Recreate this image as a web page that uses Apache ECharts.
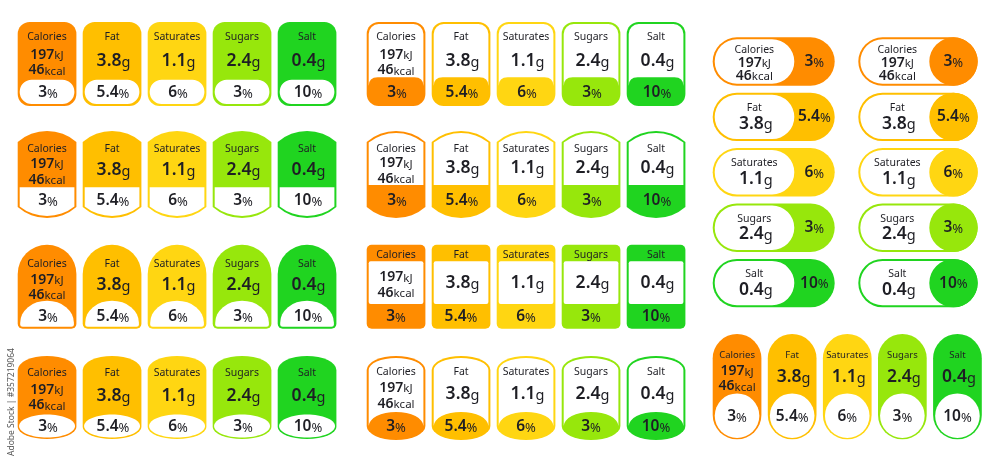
<!DOCTYPE html>
<html>
<head>
<meta charset="utf-8">
<style>
  html, body { margin: 0; padding: 0; background: #fff; }
  #main { width: 1000px; height: 462px; }
</style>
<script src="https://cdn.jsdelivr.net/npm/echarts@6/dist/echarts.min.js"></script>
</head>
<body>
<div id="main"></div>
<script>
const nutrients = ['Calories', 'Fat', 'Saturates', 'Sugars', 'Salt']
const energyValues = ['197', '46']
const energyUnits = ['kJ', 'kcal']
const amounts = ['', '3.8', '1.1', '2.4', '0.4']
const percents = [3, 5.4, 6, 3, 10]
const colors = ['#ff8c00', '#ffbf00', '#ffd612', '#97e70c', '#20d420']

const INK = '#1e1e24'
const FONT = '"Noto Sans"'

const rich = {
  big: { font: '600 17.5px ' + FONT, fill: INK, lineHeight: 20, verticalAlign: 'bottom' },
  unit: { font: '400 14.5px ' + FONT, fill: INK, lineHeight: 20, verticalAlign: 'bottom' },
  mid: { font: '600 14px ' + FONT, fill: INK, lineHeight: 20, verticalAlign: 'bottom' },
  small: { font: '400 11.5px ' + FONT, fill: INK, lineHeight: 20, verticalAlign: 'bottom' },
  pct: { font: '600 15.5px ' + FONT, fill: INK, lineHeight: 20, verticalAlign: 'bottom' },
  sign: { font: '400 13px ' + FONT, fill: INK, lineHeight: 20, verticalAlign: 'bottom' }
}

function path(d, fill) {
  return { type: 'path', shape: { pathData: d }, style: { fill: fill } }
}

function roundBox(x, y, w, h, r) {
  return `M${x + r} ${y}H${x + w - r}A${r} ${r} 0 0 1 ${x + w} ${y + r}V${y + h - r}A${r} ${r} 0 0 1 ${x + w - r} ${y + h}H${x + r}A${r} ${r} 0 0 1 ${x} ${y + h - r}V${y + r}A${r} ${r} 0 0 1 ${x + r} ${y}Z`
}

// card with curved top and bottom, st/sb are where the straight sides start and end
function curved(w, rxt, ryt, st, rxb, ryb, sb) {
  return `M0 ${st}A${rxt} ${ryt} 0 0 1 ${w} ${st}V${sb}A${rxb} ${ryb} 0 0 1 0 ${sb}Z`
}

const W = 58.7
const H = 84

const shapes = {
  aRound(c) {
    return [path(roundBox(0, 0, W, H, 12), c), path(roundBox(2, 57.7, W - 4, 24.3, 12), '#fff')]
  },
  aShield(c) {
    return [
      path(curved(W, 44.6, 44.6, 11, 44.6, 44.6, 76), c),
      path(`M2 56.3H${W - 2}V75.5A44 44 0 0 1 2 75.5Z`, '#fff')
    ]
  },
  aDome(c) {
    return [
      path(`M0 29.3A29.35 29.35 0 0 1 ${W} 29.3V${H - 5}A5 5 0 0 1 ${W - 5} ${H}H5A5 5 0 0 1 0 ${H - 5}Z`, c),
      path(`M2.5 ${H - 6}V${H - 4.5}A2.5 2.5 0 0 0 5 ${H - 2}H${W - 5}A2.5 2.5 0 0 0 ${W - 2.5} ${H - 4.5}V${H - 6}A26.85 22 0 0 0 2.5 ${H - 6}Z`, '#fff')
    ]
  },
  aBarrel(c) {
    return [
      path(curved(W, W / 2, 14, 14, W / 2, 12, 71), c),
      { type: 'ellipse', shape: { cx: W / 2, cy: 70, rx: 28, ry: 11.6 }, style: { fill: '#fff' } }
    ]
  },
  bRound(c) {
    return [
      path(roundBox(0, 0, W, H, 12), c),
      path(`M12 2H${W - 12}A10 10 0 0 1 ${W - 2} 12V64Q${W - 2} 55.3 ${W - 11} 55.3H11Q2 55.3 2 64V12A10 10 0 0 1 12 2Z`, '#fff')
    ]
  },
  bShield(c) {
    return [
      path(curved(W, 44.6, 44.6, 11, 44.6, 44.6, 76), c),
      path(`M2 54V11.5A44 44 0 0 1 ${W - 2} 11.5V54Z`, '#fff')
    ]
  },
  bHeader(c) {
    return [path(roundBox(0, 0, W, H, 5), c), path(roundBox(2, 16.6, W - 4, 42.7, 2), '#fff')]
  },
  bBarrel(c) {
    return [
      path(curved(W, W / 2, 14, 14, W / 2, 14, 70), c),
      path(`M2 70V14A27.35 12 0 0 1 ${W - 2} 14V70A27.35 14 0 0 0 2 70Z`, '#fff')
    ]
  },
  cPill(c) {
    return [path(roundBox(0, 0, 122, 48.4, 24.2), c), path(roundBox(2, 2, 79.6, 44.4, 22.2), '#fff')]
  },
  cBall(c) {
    return [
      path(roundBox(0, 0, 119.4, 48.4, 24.2), c),
      path(roundBox(2, 2, 115.4, 44.4, 22.2), '#fff'),
      { type: 'circle', shape: { cx: 95.2, cy: 24.2, r: 24.2 }, style: { fill: c } }
    ]
  },
  dPill(c) {
    return [
      path(roundBox(0, 0, 48.7, 105.3, 24.35), c),
      { type: 'circle', shape: { cx: 24.35, cy: 81.7, r: 22.3 }, style: { fill: '#fff' } }
    ]
  }
}

// x, y = first card; dx, dy = step between cards; the rest are text anchors inside a card
const panels = [
  { shape: 'aRound', x: 17.7, y: 22, dx: 65, dy: 0, tx: 29.3, px: 30.3, name: 13.3, kj: 31.3, kcal: 47, val: 38.7, pct: 70.3 },
  { shape: 'aShield', x: 17.7, y: 131, dx: 65, dy: 0, tx: 29.3, px: 30.3, name: 16.3, kj: 31.7, kcal: 47.3, val: 39, pct: 69.7 },
  { shape: 'aDome', x: 17.7, y: 244.7, dx: 65, dy: 0, tx: 29.3, px: 30.3, name: 17.6, kj: 33.6, kcal: 48.6, val: 40.3, pct: 72 },
  { shape: 'aBarrel', x: 17.7, y: 356, dx: 65, dy: 0, tx: 29.3, px: 30.3, name: 15.7, kj: 32.3, kcal: 48, val: 39.7, pct: 70 },
  { shape: 'bRound', x: 366.7, y: 22, dx: 65, dy: 0, tx: 29.3, px: 30.3, name: 13.3, kj: 31.3, kcal: 47, val: 38.7, pct: 70.3 },
  { shape: 'bShield', x: 366.7, y: 131, dx: 65, dy: 0, tx: 29.3, px: 30.3, name: 16.3, kj: 31, kcal: 46.7, val: 36.7, pct: 69.7 },
  { shape: 'bHeader', x: 366.7, y: 244.7, dx: 65, dy: 0, tx: 29.3, px: 29.3, name: 9.3, kj: 31.3, kcal: 47, val: 38, pct: 71.3 },
  { shape: 'bBarrel', x: 366.7, y: 356, dx: 65, dy: 0, tx: 29.3, px: 29.3, name: 14.3, kj: 30.7, kcal: 46.7, val: 38, pct: 70 },
  { shape: 'cPill', x: 712.7, y: 37.3, dx: 0, dy: 55.4, tx: 41.6, px: 101.6, name: 14, kj: 24.4, kcal: 37, val: 30.6, pct: 24, nameE: 11.7 },
  { shape: 'cBall', x: 858.3, y: 37.3, dx: 0, dy: 55.4, tx: 39, px: 95, name: 14, kj: 24.4, kcal: 37, val: 30.6, pct: 24, nameE: 11.7 },
  { shape: 'dPill', x: 712.7, y: 334, dx: 55.1, dy: 0, tx: 24.35, px: 24.35, name: 20, kj: 36, kcal: 51, val: 42.7, pct: 82.7, small: true }
]

function label(x, y, text) {
  return {
    type: 'text', x: x, y: y,
    style: { text: text, rich: rich, textAlign: 'center', textVerticalAlign: 'middle', fill: INK }
  }
}

function renderCard(panel) {
  return function (params, api) {
    const i = api.value(0)
    const pos = api.coord([panel.x + panel.dx * i, panel.y + panel.dy * i])
    const children = shapes[panel.shape](colors[i])
    const nameSize = panel.small ? 9.5 : 10.5
    const nameY = i === 0 && panel.nameE ? panel.nameE : panel.name
    children.push({
      type: 'text', x: panel.tx, y: nameY + 1.3,
      style: { text: nutrients[i], font: `400 ${nameSize}px ${FONT}`, fill: INK, textAlign: 'center', textVerticalAlign: 'middle' }
    })
    // the rich lines sit low in their box, so they are lifted a little
    if (i === 0) {
      children.push(label(panel.tx, panel.kj - 1.7, `{mid|${energyValues[0]}}{small|${energyUnits[0]}}`))
      children.push(label(panel.tx, panel.kcal - 1.7, `{mid|${energyValues[1]}}{small|${energyUnits[1]}}`))
    } else {
      children.push(label(panel.tx + 1.5, panel.val - 0.7, `{big|${amounts[i]}}{unit|g}`))
    }
    children.push(label(panel.px, panel.pct - 1.7, `{pct|${api.value(1)}}{sign|%}`))
    return { type: 'group', x: pos[0], y: pos[1], children: children }
  }
}

const chart = echarts.init(document.getElementById('main'))

chart.setOption({
  animation: false,
  backgroundColor: '#fff',
  grid: { left: 0, right: 0, top: 0, bottom: 0 },
  xAxis: { type: 'value', min: 0, max: 1000, show: false },
  yAxis: { type: 'value', min: 0, max: 462, inverse: true, show: false },
  graphic: [{
    type: 'text', x: 12, y: 402, rotation: Math.PI / 2,
    style: { text: 'Adobe Stock | #357219064', font: '400 8.5px "Noto Sans"', fill: '#555', textAlign: 'center', textVerticalAlign: 'middle' }
  }],
  series: panels.map(panel => ({
    type: 'custom',
    silent: true,
    clip: false,
    renderItem: renderCard(panel),
    data: percents.map((p, i) => [i, p])
  }))
})
</script>
</body>
</html>
